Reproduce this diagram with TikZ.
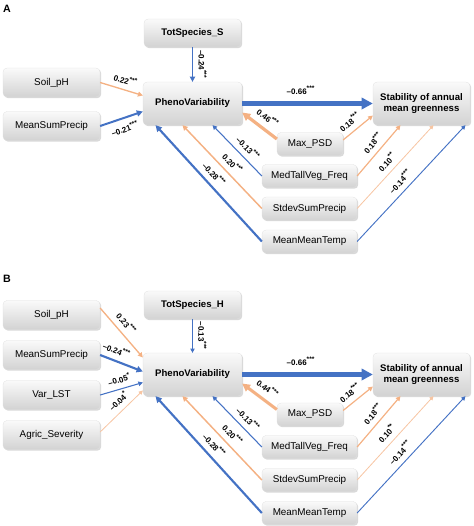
\documentclass[tikz,border=0pt]{standalone}
\usepackage{fontspec}
\setmainfont{Liberation Sans}
\usepackage{xcolor}
\usetikzlibrary{positioning, arrows.meta, calc, shadows}

\definecolor{pathblue}{HTML}{4472C4}
\definecolor{pathorange}{HTML}{F4B183}

\begin{document}
\begin{tikzpicture}[x=0.75pt, y=-0.75pt, >={Triangle[length=2pt 1.7, width=2pt 1.7]},
    box/.style={rounded corners=3pt, top color=gray!4, bottom color=gray!35, draw=gray!25, line width=0.2pt,
        drop shadow={shadow xshift=0.9pt, shadow yshift=-0.9pt, opacity=0.3}, inner sep=1pt, align=center,
        font=\fontsize{7.4}{8.8}\selectfont},
    corebox/.style={box, font=\bfseries\fontsize{7.2}{8.8}\selectfont},
    sidebox/.style={box, minimum width=72.75pt, minimum height=21.75pt},
    lowbox/.style={box, minimum width=71.25pt, minimum height=17.25pt},
    neg/.style={draw=pathblue},
    posi/.style={draw=pathorange},
    coef/.style={font=\bfseries\fontsize{6}{7}\selectfont, inner sep=1pt, text=black, sloped}]

    \useasboundingbox (0,0) rectangle (474,526);

    % panel A
    \node[font=\bfseries\fontsize{8}{9}\selectfont] (labA) at (7,9) {A};
    \node[corebox, minimum width=72.75pt, minimum height=21pt] (totS) at (192.5,33) {TotSpecies\_S};
    \node[sidebox] (soilA) at (51.5,82.5) {Soil\_pH};
    \node[sidebox] (mspA) at (51.5,126) {MeanSumPrecip};
    \node[corebox, minimum width=74.25pt, minimum height=32.25pt] (phA) at (192.5,103.5) {PhenoVariability};
    \node[corebox, minimum width=72.75pt, minimum height=32.25pt] (stA) at (421.5,103.5) {Stability of annual\\mean greenness};
    \node[lowbox, minimum width=49.5pt] (maxA) at (310,144) {Max\_PSD};
    \node[lowbox] (mtA) at (309.5,176) {MedTallVeg\_Freq};
    \node[lowbox] (sdA) at (309.5,208.5) {StdevSumPrecip};
    \node[lowbox] (mmA) at (309.5,241.5) {MeanMeanTemp};

    \path[->]
    (totS) edge[neg, line width=1.1pt] node[coef, above=3pt, pos=.5] {--0.24\textsuperscript{***}} (phA)
    (soilA.east) edge[posi, line width=1pt] node[coef, above=3pt, pos=.53] {0.22\textsuperscript{***}} ($(phA.west)+(0,-8)$)
    (mspA.east) edge[neg, line width=1.5pt] node[coef, below=3pt, pos=.5] {--0.21\textsuperscript{***}} ($(phA.west)+(0,8)$)
    (phA.east) edge[neg, line width=3.8pt] node[coef, above=4pt, pos=.45] {--0.66\textsuperscript{***}} (stA.west)
    ($(maxA.west)+(0,-5)$) edge[posi, line width=2.4pt] node[coef, above=3.5pt, pos=.46] {0.46\textsuperscript{***}} ($(phA.east)+(0,9)$)
    ($(maxA.east)+(0,-4)$) edge[posi, line width=0.9pt] node[coef, above=3pt, pos=.43] {0.18\textsuperscript{***}} ($(stA.west)+(0,12)$)
    (mtA.west) edge[neg, line width=0.8pt] node[coef, above=3pt, pos=.42] {--0.13\textsuperscript{***}} ($(phA.south)+(20,0)$)
    (mtA.east) edge[posi, line width=0.9pt] node[coef, above=3pt, pos=.53] {0.18\textsuperscript{***}} ($(stA.south)+(-21,0)$)
    (sdA.west) edge[posi, line width=1.1pt] node[coef, above=3pt, pos=.46] {0.20\textsuperscript{***}} ($(phA.south)+(-10,0)$)
    (sdA.east) edge[draw=pathorange!75, line width=0.6pt] node[coef, above=3pt, pos=.48] {0.10\textsuperscript{**}} ($(stA.south)+(12,0)$)
    (mmA.west) edge[neg, line width=1.6pt] node[coef, above=3pt, pos=.52] {--0.28\textsuperscript{***}} ($(phA.south)+(-37,0)$)
    (mmA.east) edge[neg, line width=0.7pt] node[coef, above=3pt, pos=.46] {--0.14\textsuperscript{***}} ($(stA.south)+(44,0)$);

    % panel B
    \node[font=\bfseries\fontsize{8}{9}\selectfont] (labB) at (7,279) {B};
    \node[corebox, minimum width=72.75pt, minimum height=21pt] (totH) at (192.5,305) {TotSpecies\_H};
    \node[sidebox] (soilB) at (51.5,315) {Soil\_pH};
    \node[sidebox] (mspB) at (51.5,355) {MeanSumPrecip};
    \node[sidebox] (varB) at (51.5,395) {Var\_LST};
    \node[sidebox] (agB) at (51.5,435) {Agric\_Severity};
    \node[corebox, minimum width=74.25pt, minimum height=32.25pt] (phB) at (192.5,374.5) {PhenoVariability};
    \node[corebox, minimum width=72.75pt, minimum height=32.25pt] (stB) at (421.5,374.5) {Stability of annual\\mean greenness};
    \node[lowbox, minimum width=49.5pt] (maxB) at (310,414.5) {Max\_PSD};
    \node[lowbox] (mtB) at (309.5,447) {MedTallVeg\_Freq};
    \node[lowbox] (sdB) at (309.5,480) {StdevSumPrecip};
    \node[lowbox] (mmB) at (309.5,513) {MeanMeanTemp};

    \path[->]
    (totH) edge[neg, line width=0.75pt] node[coef, above=3pt, pos=.5] {--0.13\textsuperscript{***}} (phB)
    ($(soilB.east)+(0,-7)$) edge[posi, line width=1pt] node[coef, above=3pt, pos=.44] {0.23\textsuperscript{***}} ($(phB.west)+(0,-17)$)
    (mspB.east) edge[neg, line width=1.6pt] node[coef, above=3pt, pos=.3] {--0.24\textsuperscript{***}} ($(phB.west)+(0,-3)$)
    (varB.east) edge[neg, line width=0.8pt] node[coef, above=3pt, pos=.51] {--0.05\textsuperscript{*}} ($(phB.west)+(0,8)$)
    ($(agB.east)+(0,-3)$) edge[draw=pathorange!75, line width=0.6pt] node[coef, above=3pt, pos=.58] {--0.04\textsuperscript{*}} ($(phB.west)+(0,16)$)
    (phB.east) edge[neg, line width=3.8pt] node[coef, above=4pt, pos=.45] {--0.66\textsuperscript{***}} (stB.west)
    ($(maxB.west)+(0,-5)$) edge[posi, line width=2.3pt] node[coef, above=3.5pt, pos=.46] {0.44\textsuperscript{***}} ($(phB.east)+(0,9)$)
    ($(maxB.east)+(0,-4)$) edge[posi, line width=0.9pt] node[coef, above=3pt, pos=.43] {0.18\textsuperscript{***}} ($(stB.west)+(0,12)$)
    (mtB.west) edge[neg, line width=0.8pt] node[coef, above=3pt, pos=.42] {--0.13\textsuperscript{***}} ($(phB.south)+(20,0)$)
    (mtB.east) edge[posi, line width=0.9pt] node[coef, above=3pt, pos=.53] {0.18\textsuperscript{***}} ($(stB.south)+(-21,0)$)
    (sdB.west) edge[posi, line width=1.1pt] node[coef, above=3pt, pos=.46] {0.20\textsuperscript{***}} ($(phB.south)+(-10,0)$)
    (sdB.east) edge[draw=pathorange!75, line width=0.6pt] node[coef, above=3pt, pos=.48] {0.10\textsuperscript{**}} ($(stB.south)+(12,0)$)
    (mmB.west) edge[neg, line width=1.6pt] node[coef, above=3pt, pos=.52] {--0.28\textsuperscript{***}} ($(phB.south)+(-37,0)$)
    (mmB.east) edge[neg, line width=0.7pt] node[coef, above=3pt, pos=.46] {--0.14\textsuperscript{***}} ($(stB.south)+(44,0)$);
\end{tikzpicture}
\end{document}
